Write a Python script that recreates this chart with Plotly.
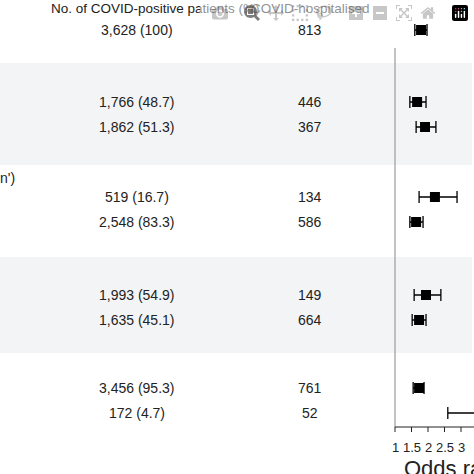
import plotly.graph_objects as go

patients = ["3,628 (100)", "1,766 (48.7)", "1,862 (51.3)", "519 (16.7)", "2,548 (83.3)",
            "1,993 (54.9)", "1,635 (45.1)", "3,456 (95.3)", "172 (4.7)"]
hospitalised = ["813", "446", "367", "134", "586", "149", "664", "761", "52"]
odds = [1.79, 1.67, 1.91, 2.21, 1.64, 1.94, 1.73, 1.73, 4.2]
ci_low = [1.60, 1.45, 1.64, 1.73, 1.45, 1.58, 1.52, 1.55, 2.60]
ci_high = [1.97, 1.94, 2.24, 2.88, 1.85, 2.39, 1.94, 1.88, 6.0]
tick_vals = [1, 1.5, 2, 2.5, 3, 3.5]
tick_text = ["1", "1.5", "2", "2.5", "3", "3.5"]

# layout (pixel rows)
row_y = [30, 102, 127, 197, 222, 295, 320, 388, 413]
W = H = 474
x0px, ppu = 395, 33.0
xr = [1 - x0px / ppu, 1 + (W - x0px) / ppu]
axis_y = 427
font = dict(family="Liberation Sans, Arial", size=14, color="#222")

fig = go.Figure()
fig.add_trace(go.Scatter(
    x=odds, y=row_y, mode="markers",
    marker=dict(symbol="square", size=10, color="black"),
    error_x=dict(type="data", symmetric=False,
                 array=[h - o for h, o in zip(ci_high, odds)],
                 arrayminus=[o - l for o, l in zip(odds, ci_low)],
                 color="black", thickness=1.3, width=6),
    showlegend=False, cliponaxis=True))

shapes = []
for (a, b) in [(63, 165), (257, 353)]:
    shapes.append(dict(type="rect", xref="paper", yref="y", x0=0, x1=472 / W, y0=a, y1=b,
                       fillcolor="#f3f4f6", line_width=0, layer="below"))
shapes.append(dict(type="line", xref="x", yref="y", x0=1, x1=1, y0=48, y1=axis_y,
                   line=dict(color="#9a9a9a", width=1.2)))
shapes.append(dict(type="line", xref="x", yref="y", x0=1, x1=xr[1], y0=axis_y, y1=axis_y,
                   line=dict(color="#222", width=1)))
ann = []
for t, lab in zip(tick_vals, tick_text):
    shapes.append(dict(type="line", xref="x", yref="y", x0=t, x1=t, y0=axis_y, y1=axis_y + 5,
                       line=dict(color="#222", width=1)))
    ann.append(dict(x=t, y=447, xref="x", yref="y", text=lab, xanchor="center",
                    showarrow=False, font=dict(font, size=13)))

for y, p, h in zip(row_y, patients, hospitalised):
    ann.append(dict(x=137 / W, y=y, xref="paper", yref="y", text=p, xanchor="center",
                    showarrow=False, font=font))
    ann.append(dict(x=310 / W, y=y, xref="paper", yref="y", text=h, xanchor="center",
                    showarrow=False, font=font))
ann.append(dict(x=155 / W, y=8, xref="paper", yref="y", text="No. of COVID-positive patients (%)",
                xanchor="center", showarrow=False, font=dict(font, size=13.5)))
ann.append(dict(x=310 / W, y=8, xref="paper", yref="y", text="COVID-hospitalised",
                xanchor="center", showarrow=False, font=dict(font, size=13.5)))
ann.append(dict(x=-2 / W, y=178, xref="paper", yref="y", text="n')", xanchor="left",
                showarrow=False, font=font))
ann.append(dict(x=402 / W, y=468, xref="paper", yref="y", text="Odds ratio", xanchor="left",
                showarrow=False, font=dict(font, size=22)))

fig.update_layout(
    width=W, height=H, margin=dict(l=0, r=0, t=0, b=0),
    plot_bgcolor="white", paper_bgcolor="white",
    xaxis=dict(range=xr, visible=False),
    yaxis=dict(range=[H, 0], visible=False),
    shapes=shapes, annotations=ann)
fig.write_html("out.html", post_script="document.body.style.margin='0';document.body.style.overflow='hidden';")
